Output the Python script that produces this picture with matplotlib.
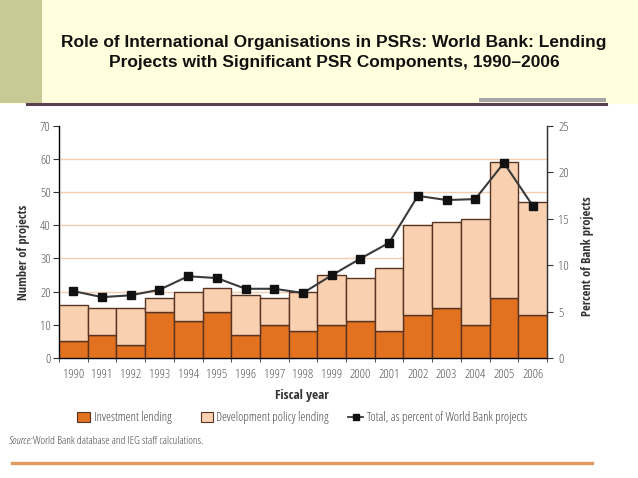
import matplotlib
matplotlib.use("Agg")
import matplotlib.pyplot as plt
from matplotlib.patches import Rectangle
from matplotlib.lines import Line2D
from matplotlib.font_manager import FontProperties
import numpy as np

years = [str(y) for y in range(1990, 2007)]
investment = [5, 7, 4, 14, 11, 14, 7, 10, 8, 10, 11, 8, 13, 15, 10, 18, 13]
totals = [16, 15, 15, 18, 20, 21, 19, 18, 20, 25, 24, 27, 40, 41, 42, 59, 47]
development = [t - i for t, i in zip(totals, investment)]
percent_total = [7.2, 6.55, 6.75, 7.35, 8.8, 8.6, 7.45, 7.45, 7.0, 8.9, 10.7, 12.4, 17.45, 17.0, 17.1, 21.0, 16.4]

W, H = 638, 478
fig = plt.figure(figsize=(W / 100, H / 100), dpi=100)
fig.patch.set_facecolor("white")

def fx(x):
    return x / W

def fy(y):
    return 1 - y / H

def cond(size, bold=False, italic=False):
    if bold:
        return FontProperties(family="Open Sans Condensed", stretch="condensed", weight="bold", size=size)
    return FontProperties(family="Open Sans", stretch="condensed", weight="light",
                          style="italic" if italic else "normal", size=size)

# Header background
fig.patches.append(Rectangle((0, fy(104)), 1, 104 / H, transform=fig.transFigure,
                             facecolor="#FFFFDD", edgecolor="none", zorder=0))
fig.patches.append(Rectangle((0, fy(103)), fx(42), 103 / H, transform=fig.transFigure,
                             facecolor="#C9C996", edgecolor="none", zorder=1))
fig.patches.append(Rectangle((fx(479), fy(102)), fx(606 - 479), 4 / H, transform=fig.transFigure,
                             facecolor="#A8A4A8", edgecolor="none", zorder=2))
fig.lines.append(Line2D([fx(27), fx(606)], [fy(103.5), fy(103.5)], transform=fig.transFigure,
                        color="#5A3F50", lw=2.2, zorder=3))
fig.lines.append(Line2D([fx(12), fx(592)], [fy(463), fy(463)], transform=fig.transFigure,
                        color="#E39A5F", lw=2.4, zorder=3))

fig.text(fx(334), fy(43), "Role of International Organisations in PSRs: World Bank: Lending",
         ha="center", va="center", fontsize=12.5, fontweight="bold",
         family="Liberation Sans", color="#111111")
fig.text(fx(334), fy(63), "Projects with Significant PSR Components, 1990\u20132006",
         ha="center", va="center", fontsize=12.5, fontweight="bold",
         family="Liberation Sans", color="#111111")

tick_color = "#555555"

ax = fig.add_axes([fx(59), fy(358), fx(547 - 59), (358 - 125.7) / H])
ax.set_facecolor("white")
x = np.arange(len(years))
edge = "#5A3422"
ax.bar(x, investment, width=1.0, color="#E2721F", edgecolor=edge, linewidth=1.0, zorder=3)
ax.bar(x, development, bottom=investment, width=1.0, color="#F9D0B0", edgecolor=edge,
       linewidth=1.0, zorder=3)
ax.set_xlim(-0.5, len(years) - 0.5)
ax.set_ylim(0, 70)
ax.set_yticks(range(0, 71, 10))
for g in range(10, 70, 10):
    ax.axhline(g, color="#F3CDB0", lw=1.0, zorder=1)
ax.set_xticks(x)
ax.set_xticklabels(years, fontproperties=cond(9.5), color=tick_color)
ax.set_xticks(np.arange(-0.5, len(years), 1.0), minor=True)
ax.tick_params(axis="x", which="major", length=0, pad=7)
ax.tick_params(axis="x", which="minor", length=3, color="#333333", direction="out")
ax.tick_params(axis="y", length=4, color="#333333", labelcolor=tick_color, pad=2)
ax.set_yticklabels([str(v) for v in range(0, 71, 10)], fontproperties=cond(9.5))
ax.spines["top"].set_visible(False)
for s in ["left", "bottom", "right"]:
    ax.spines[s].set_color("#333333")
    ax.spines[s].set_linewidth(1.0)

ax2 = ax.twinx()
ax2.set_ylim(0, 25)
ax2.set_yticks(range(0, 26, 5))
ax2.set_yticklabels([str(v) for v in range(0, 26, 5)], fontproperties=cond(9.5))
ax2.plot(x, percent_total, color="#3A3A3A", lw=1.5, marker="s", markersize=5.5,
         markerfacecolor="#111111", markeredgecolor="#111111", zorder=5)
ax2.tick_params(axis="y", length=4, color="#333333", labelcolor=tick_color, pad=4)
ax2.spines["top"].set_visible(False)
ax2.spines["right"].set_color("#333333")

fig.text(fx(24), fy(252), "Number of projects", rotation=90, ha="center", va="center",
         fontproperties=cond(9, bold=True), color="#333333")
fig.text(fx(588), fy(256), "Percent of Bank projects", rotation=90, ha="center", va="center",
         fontproperties=cond(9, bold=True), color="#333333")
fig.text(fx(302), fy(396), "Fiscal year", ha="center", va="center",
         fontproperties=cond(9.5, bold=True), color="#333333")

# Legend
ly = fy(417)
fig.patches.append(Rectangle((fx(77), fy(422)), fx(13), 10 / H, transform=fig.transFigure,
                             facecolor="#E2721F", edgecolor=edge, lw=0.8))
fig.text(fx(94), ly, "Investment lending", ha="left", va="center",
         fontproperties=cond(9), color="#444444")
fig.patches.append(Rectangle((fx(201), fy(422)), fx(12), 10 / H, transform=fig.transFigure,
                             facecolor="#F9D0B0", edgecolor=edge, lw=0.8))
fig.text(fx(216), ly, "Development policy lending", ha="left", va="center",
         fontproperties=cond(9), color="#444444")
fig.lines.append(Line2D([fx(348), fx(363)], [ly, ly], transform=fig.transFigure,
                        color="#3A3A3A", lw=1.3))
fig.lines.append(Line2D([fx(355.5)], [ly], transform=fig.transFigure, color="#111111",
                        marker="s", markersize=4.5, lw=0))
fig.text(fx(367), ly, "Total, as percent of World Bank projects", ha="left", va="center",
         fontproperties=cond(9), color="#444444")

fig.text(fx(9), fy(442), "Source:", ha="left", va="center", fontproperties=cond(8, italic=True),
         color="#444444")
fig.text(fx(33), fy(442), "World Bank database and IEG staff calculations.", ha="left",
         va="center", fontproperties=cond(8), color="#444444")

fig.savefig("out.png", dpi=100, facecolor=fig.get_facecolor())
